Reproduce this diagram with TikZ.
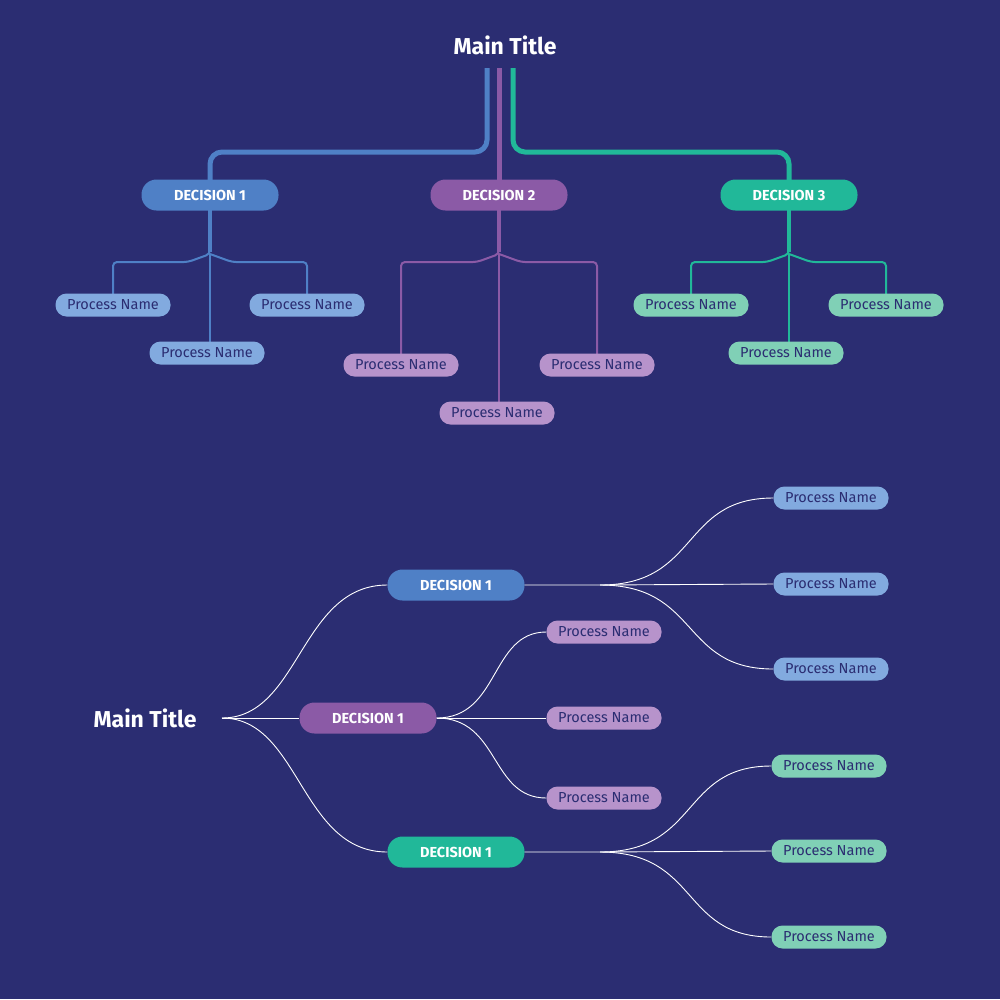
\documentclass[tikz,border=0pt]{standalone}
\usepackage{fontspec}
\setmainfont{Fira Sans}
\usetikzlibrary{positioning}
\usetikzlibrary{calc}
\definecolor{bgNavy}{HTML}{2B2D72}
\definecolor{decBlue}{HTML}{4F80C6}
\definecolor{procBlue}{HTML}{82AADF}
\definecolor{decPurple}{HTML}{8B5AA6}
\definecolor{procPurple}{HTML}{B793CB}
\definecolor{decGreen}{HTML}{21B899}
\definecolor{procGreen}{HTML}{80D0B6}
\tikzset{decbox/.style={rounded corners=15pt, minimum width=137pt, minimum height=31pt, text=white, font=\fontsize{14.5}{16}\selectfont\bfseries}}
\tikzset{procbox/.style={rounded corners=11pt, minimum width=115pt, minimum height=23pt, text=bgNavy, font=\fontsize{14.5}{16}\selectfont}}
\tikzset{titlebox/.style={text=white, font=\fontsize{23}{26}\selectfont\bfseries}}
\tikzset{trunk/.style={line width=5pt, rounded corners=12pt}}
\tikzset{twig/.style={line width=2pt, rounded corners=4pt}}
\tikzset{wire/.style={white, line width=0.9pt}}
\begin{document}
\begin{tikzpicture}[x=1pt, y=-1pt]

\fill[bgNavy] (0,0) rectangle (1000,999);
\useasboundingbox (0,0) rectangle (1000,999);

% top tree
\coordinate (topA) at (487,68);
\coordinate (topB) at (499,68);
\coordinate (topC) at (513,68);

\draw[trunk, decBlue] (topA) |- (210,152) -- (210,195);
\draw[trunk, decGreen] (topC) |- (789,152) -- (789,195);
\draw[line width=5pt, decPurple] (topB) -- (499,195);

\draw[line width=4pt, decBlue] (210,195) -- (210,252);
\draw[twig, decBlue] (210,230) -- (210,254) -- (188,262) -- (113,262) -- (113,300);
\draw[twig, decBlue] (210,254) -- (232,262) -- (307,262) -- (307,300);
\draw[line width=2pt, decBlue] (210,254) -- (210,350);

\draw[line width=4pt, decPurple] (499,195) -- (499,252);
\draw[twig, decPurple] (499,230) -- (499,254) -- (477,262) -- (401,262) -- (401,360);
\draw[twig, decPurple] (499,254) -- (521,262) -- (597,262) -- (597,360);
\draw[line width=2pt, decPurple] (499,254) -- (499,410);

\draw[line width=4pt, decGreen] (789,195) -- (789,252);
\draw[twig, decGreen] (789,230) -- (789,254) -- (767,262) -- (691,262) -- (691,300);
\draw[twig, decGreen] (789,254) -- (811,262) -- (886,262) -- (886,300);
\draw[line width=2pt, decGreen] (789,254) -- (789,350);

\node[titlebox] (title) at (505,45) {Main Title};

\node[decbox, fill=decBlue] (dA) at (210,195) {DECISION 1};
\node[decbox, fill=decPurple] (dB) at (499,195) {DECISION 2};
\node[decbox, fill=decGreen] (dC) at (789,195) {DECISION 3};

\node[procbox, fill=procBlue] (pA1) at (113,305) {Process Name};
\node[procbox, fill=procBlue] (pA2) at (307,305) {Process Name};
\node[procbox, fill=procBlue] (pA3) at (207,353) {Process Name};
\node[procbox, fill=procPurple] (pB1) at (401,365) {Process Name};
\node[procbox, fill=procPurple] (pB2) at (597,365) {Process Name};
\node[procbox, fill=procPurple] (pB3) at (497,413) {Process Name};
\node[procbox, fill=procGreen] (pC1) at (691,305) {Process Name};
\node[procbox, fill=procGreen] (pC2) at (886,305) {Process Name};
\node[procbox, fill=procGreen] (pC3) at (786,353) {Process Name};

% bottom tree
\node[titlebox] (title2) at (145,718) {Main Title};
\coordinate (fan) at (222,718);

\node[decbox, fill=decBlue] (eA) at (456,585) {DECISION 1};
\node[decbox, fill=decPurple] (eB) at (368,718) {DECISION 1};
\node[decbox, fill=decGreen] (eC) at (456,852) {DECISION 1};

\node[procbox, fill=procBlue] (qA1) at (831,498) {Process Name};
\node[procbox, fill=procBlue] (qA2) at (831,584) {Process Name};
\node[procbox, fill=procBlue] (qA3) at (831,669) {Process Name};
\node[procbox, fill=procPurple] (qB1) at (604,632) {Process Name};
\node[procbox, fill=procPurple] (qB2) at (604,718) {Process Name};
\node[procbox, fill=procPurple] (qB3) at (604,798) {Process Name};
\node[procbox, fill=procGreen] (qC1) at (829,766) {Process Name};
\node[procbox, fill=procGreen] (qC2) at (829,851) {Process Name};
\node[procbox, fill=procGreen] (qC3) at (829,937) {Process Name};

\draw[wire] (fan) .. controls (300,718) and (300,585) .. (eA.west);
\draw[wire] (fan) -- (eB.west);
\draw[wire] (fan) .. controls (300,718) and (300,852) .. (eC.west);

\coordinate (hubA) at (600,585);
\coordinate (hubC) at (600,852);
\draw[wire] (eA.east) -- (hubA) .. controls (700,585) and (680,498) .. (qA1.west);
\draw[wire] (hubA) -- (qA2.west);
\draw[wire] (hubA) .. controls (700,585) and (680,669) .. (qA3.west);

\draw[wire] (eB.east) .. controls (500,718) and (490,632) .. (qB1.west);
\draw[wire] (eB.east) -- (qB2.west);
\draw[wire] (eB.east) .. controls (500,718) and (490,798) .. (qB3.west);

\draw[wire] (eC.east) -- (hubC) .. controls (700,852) and (680,766) .. (qC1.west);
\draw[wire] (hubC) -- (qC2.west);
\draw[wire] (hubC) .. controls (700,852) and (680,937) .. (qC3.west);

\end{tikzpicture}
\end{document}
